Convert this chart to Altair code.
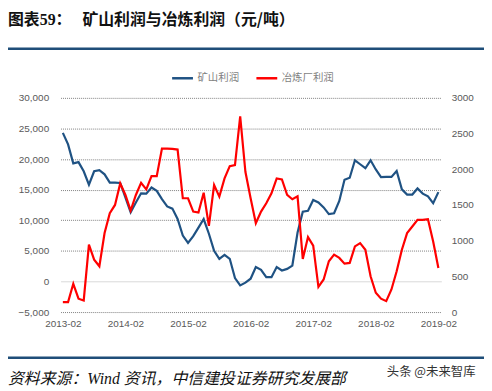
import altair as alt
import pandas as pd

# monthly categories 2013-02 .. 2019-02
months = [f"{2013 + (i + 1) // 12}-{(i + 1) % 12 + 1:02d}" for i in range(73)]

# 矿山利润 (left axis, 元/吨)
mine = [24280, 22400, 19300, 19500, 18000, 15800, 18000, 18200, 17500, 16150,
        16150, 16100, 13700, 11300, 12900, 14400, 14350, 15350, 14800, 13450,
        12250, 11900, 10200, 7500, 6300, 7400, 8800, 10200, 7800, 5000,
        3700, 4350, 3700, 550, -650, -200, 450, 2350, 1900, 700,
        700, 2350, 1800, 2050, 2600, 8000, 11400, 11550, 13300, 12900,
        12100, 11000, 11150, 13150, 16600, 16950, 19800, 19150, 18500, 19800,
        18300, 17050, 17100, 17080, 18050, 15050, 14200, 14200, 15200, 14350,
        13900, 12800, 14600]

# 冶炼厂利润 (right axis, 元/吨)
smelter = [139, 139, 396, 187, 163, 943, 734, 641, 1106, 1385,
           1500, 1802, 1640, 1421, 1640, 1811, 1719, 1904, 1904, 2290,
           2290, 2285, 2276, 1594, 1594, 1407, 1393, 1672, 1208, 1779,
           1616, 1872, 2044, 2058, 2740, 1964, 1594, 1245, 1407, 1524,
           1663, 1872, 1858, 1640, 1580, 1620, 744, 1050, 929, 354,
           456, 711, 804, 758, 678, 688, 919, 966, 873, 501,
           270, 187, 153, 316, 571, 873, 1106, 1198, 1291, 1291,
           1301, 989, 618]

series_names = ["矿山利润", "冶炼厂利润"]
left_ticks = list(range(-5000, 30001, 5000))
right_ticks = list(range(0, 3001, 500))
x_ticks = list(range(0, 73, 12))

BLUE = "#1F5283"
RED = "#FF0000"
DARK = "#1F4E79"
LABEL = "#595959"

df = pd.DataFrame({"idx": list(range(len(months))), "month": months,
                   "mine": mine, "smelter": smelter})

xenc = alt.X("idx:Q",
             scale=alt.Scale(domain=[-0.44, 72.57], nice=False, zero=False),
             axis=alt.Axis(values=x_ticks,
                           labelExpr="toString(2013 + round(datum.value / 12)) + '-02'",
                           title=None, grid=False, domain=False, ticks=False,
                           labelPadding=7, labelFontSize=10, labelColor=LABEL,
                           labelFont="Liberation Sans"))

color_scale = alt.Scale(domain=series_names, range=[BLUE, RED])
legend = alt.Legend(orient="none", legendX=111, legendY=-32, direction="horizontal",
                    symbolType="stroke", symbolSize=441, symbolStrokeWidth=2.5,
                    labelFontSize=10.5, labelColor="#7F7F7F", labelFont="Noto Sans CJK SC",
                    labelOffset=3, columnPadding=12, title=None, padding=0)

blue = alt.Chart(df).transform_calculate(series="'矿山利润'").mark_line(strokeWidth=2.2).encode(
    x=xenc,
    y=alt.Y("mine:Q",
            scale=alt.Scale(domain=[-5000, 30000], nice=False, zero=False),
            axis=alt.Axis(values=left_ticks, format=",.0f", title=None, orient="left",
                          grid=True, domain=False, ticks=False, labelPadding=12,
                          labelFontSize=10, labelColor=LABEL, labelFont="Liberation Sans",
                          gridColor={"condition": {"test": "datum.value === 0", "value": "#D9D9D9"},
                                     "value": "#808080"},
                          gridDash={"condition": {"test": "datum.value === 0", "value": []},
                                    "value": [1, 1]},
                          gridWidth=1)),
    color=alt.Color("series:N", scale=color_scale, legend=legend),
)

red = alt.Chart(df).transform_calculate(series="'冶炼厂利润'").mark_line(strokeWidth=2.2).encode(
    x=xenc,
    y=alt.Y("smelter:Q",
            scale=alt.Scale(domain=[0, 3000], nice=False, zero=False),
            axis=alt.Axis(values=right_ticks, format="d", title=None, orient="right",
                          grid=False, domain=False, ticks=False, labelPadding=10,
                          labelFontSize=10, labelColor=LABEL, labelFont="Liberation Sans")),
    color=alt.Color("series:N", scale=color_scale, legend=legend),
)

one = alt.Data(values=[{"k": 0}])

title_a = alt.Chart(one).mark_text(text="图表59：", font="Liberation Serif, Noto Sans CJK SC",
                                   fontWeight="bold", fontSize=16, align="left",
                                   baseline="middle", color="#111").encode(
    x=alt.value(-53), y=alt.value(-78))
title_b = alt.Chart(one).mark_text(text="矿山利润与冶炼利润（元/吨）", font="Noto Sans CJK SC",
                                   fontWeight="bold", fontSize=16, align="left",
                                   baseline="middle", color="#111").encode(
    x=alt.value(22), y=alt.value(-78))
top_rule = alt.Chart(one).mark_rule(color=DARK, strokeWidth=2.5).encode(
    x=alt.value(-53), x2=alt.value(427), y=alt.value(-49.5))
bottom_rule = alt.Chart(one).mark_rule(color=DARK, strokeWidth=2.5).encode(
    x=alt.value(-53), x2=alt.value(427), y=alt.value(262))
source = alt.Chart(one).mark_text(text="资料来源：Wind 资讯，中信建投证券研究发展部",
                                  font="Liberation Serif, Noto Sans CJK SC", fontStyle="italic",
                                  fontSize=16, align="left", baseline="middle",
                                  color="#111").encode(
    x=alt.value(-53), y=alt.value(284))
mark_wm = alt.Chart(one).mark_text(text="头条 @未来智库", font="Noto Sans CJK SC",
                                   fontSize=12.5, align="left", baseline="middle",
                                   color="#333").encode(
    x=alt.value(329), y=alt.value(276))

chart = alt.layer(blue, red, title_a, title_b, top_rule, bottom_rule, source, mark_wm).resolve_scale(
    y="independent"
).properties(
    width=384, height=216,
    padding={"left": 53, "top": 89, "right": 43, "bottom": 78},
    autosize=alt.AutoSizeParams(type="none"),
    background="white",
).configure_view(strokeWidth=0)

chart.save("out.html", embed_options={"renderer": "svg", "actions": False})
